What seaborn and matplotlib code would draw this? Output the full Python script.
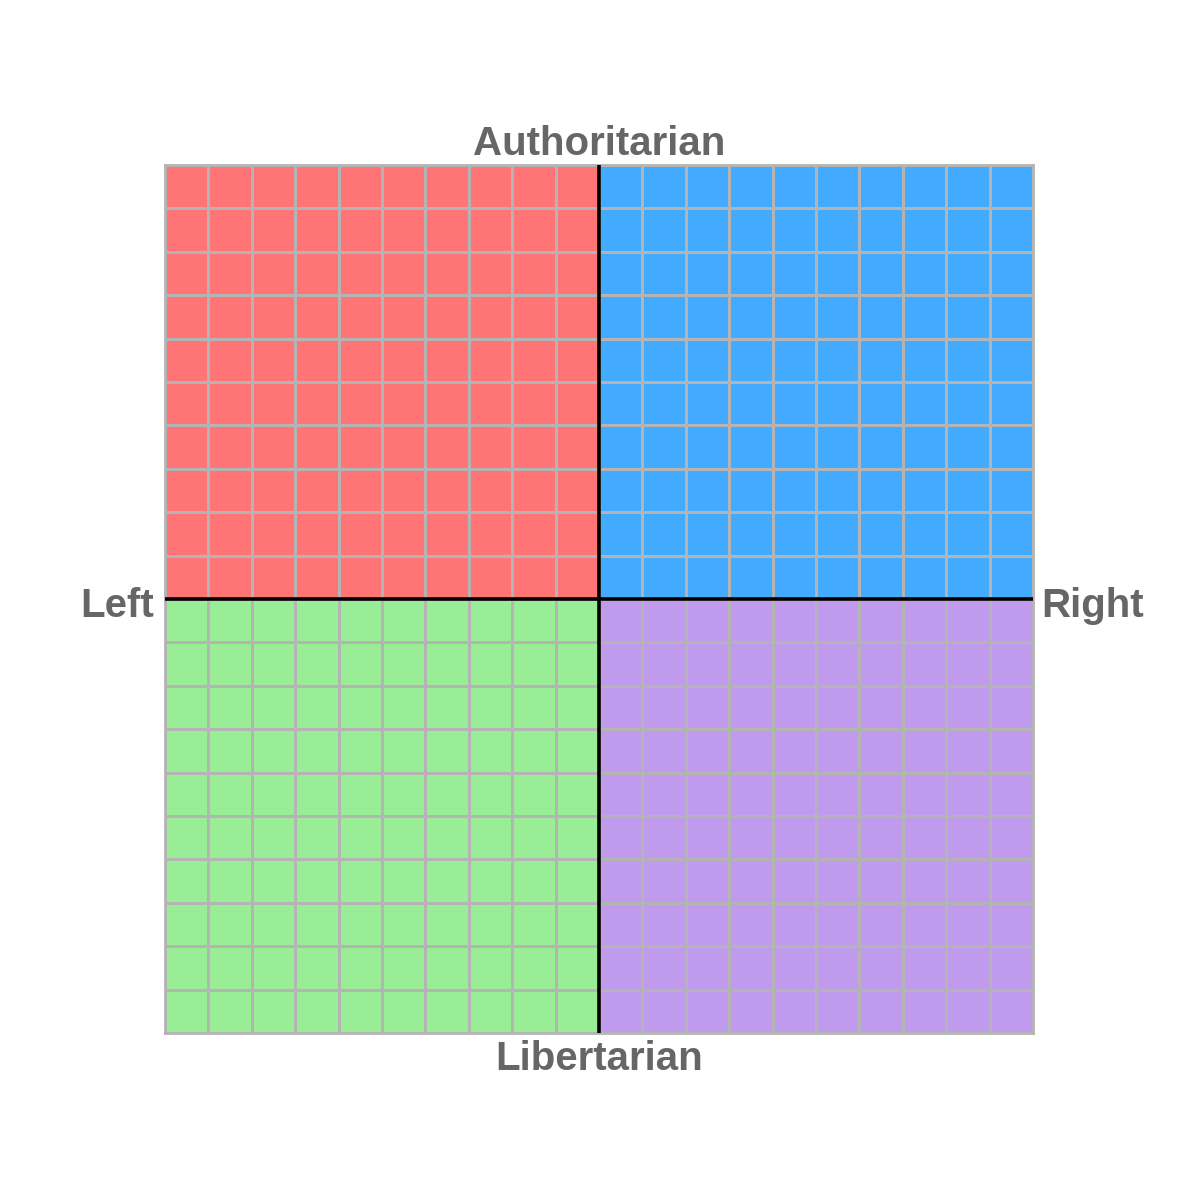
import numpy as np
import matplotlib
matplotlib.use("Agg")
import matplotlib.pyplot as plt
import seaborn as sns
from matplotlib.colors import ListedColormap

# Quadrant definitions
quadrant_names = ["Authoritarian Left", "Authoritarian Right", "Libertarian Left", "Libertarian Right"]
quadrant_colors = ["#FF7575", "#42AAFF", "#9AED97", "#C09AEC"]
axis_labels_top = "Authoritarian"
axis_labels_bottom = "Libertarian"
axis_labels_left = "Left"
axis_labels_right = "Right"
n_cells = 20

half = n_cells // 2
grid = np.zeros((n_cells, n_cells), dtype=int)
grid[:half, :half] = 0
grid[:half, half:] = 1
grid[half:, :half] = 2
grid[half:, half:] = 3

sns.set_style("white")
plt.rcParams['font.family'] = ['Liberation Sans', 'DejaVu Sans']

fig = plt.figure(figsize=(12, 12), dpi=100)
ax = fig.add_axes([165/1200, 1 - 1033/1200, 868/1200, 868/1200])

sns.heatmap(grid, cmap=ListedColormap(quadrant_colors), vmin=-0.5, vmax=3.5,
            cbar=False, linewidths=1.8, linecolor="#B4B4B4", square=False,
            xticklabels=False, yticklabels=False, ax=ax)

for s in ax.spines.values():
    s.set_visible(True)
    s.set_color("#B4B4B4")
    s.set_linewidth(2.0)

ax.axhline(half, color="black", lw=2.6, zorder=5)
ax.axvline(half, color="black", lw=2.6, zorder=5)

txt = dict(color="#666666", fontsize=29, fontweight="bold")
ax.text(half, -0.05, axis_labels_top, ha="center", va="bottom", **txt)
ax.text(half, n_cells + 0.15, axis_labels_bottom, ha="center", va="top", **txt)
ax.text(-0.25, half + 0.15, axis_labels_left, ha="right", va="center", **txt)
ax.text(n_cells + 0.2, half + 0.15, axis_labels_right, ha="left", va="center", **txt)

fig.savefig("out.png", dpi=100, facecolor="white")
